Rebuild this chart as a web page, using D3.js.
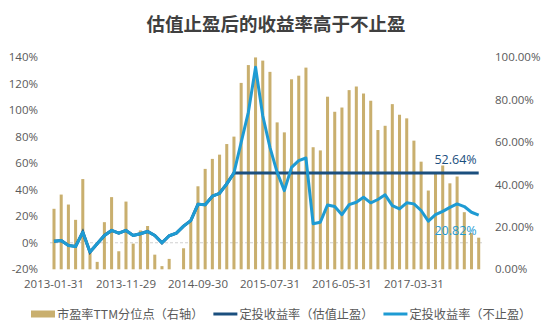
<!DOCTYPE html>
<meta charset="utf-8">
<script src="https://d3js.org/d3.v7.min.js"></script>
<style>
  body { margin: 0; background: #fff; }
  text { font-family: "Open Sans", "Noto Sans CJK SC", sans-serif; }
</style>
<div id="chart"></div>
<script>
// month-end trading days
var dates = [
  "2013-01-31","2013-02-28","2013-03-29","2013-04-26","2013-05-31","2013-06-28","2013-07-31","2013-08-30","2013-09-30","2013-10-31","2013-11-29","2013-12-31",
  "2014-01-30","2014-02-28","2014-03-31","2014-04-30","2014-05-30","2014-06-30","2014-07-31","2014-08-29","2014-09-30","2014-10-31","2014-11-28","2014-12-31",
  "2015-01-30","2015-02-27","2015-03-31","2015-04-30","2015-05-29","2015-06-30","2015-07-31","2015-08-31","2015-09-30","2015-10-30","2015-11-30","2015-12-31",
  "2016-01-29","2016-02-29","2016-03-31","2016-04-29","2016-05-31","2016-06-30","2016-07-29","2016-08-31","2016-09-30","2016-10-31","2016-11-30","2016-12-30",
  "2017-01-26","2017-02-28","2017-03-31","2017-04-28","2017-05-31","2017-06-30","2017-07-31","2017-08-31","2017-09-29","2017-10-31","2017-11-30","2017-12-29"
];
var xTicks = ["2013-01-31","2013-11-29","2014-09-30","2015-07-31","2016-05-31","2017-03-31"];

// 市盈率TTM分位点 (right axis, %)
var pePct = [
  28.5, 35.2, 30.5, 23.3, 42.5, 8, 3.5, 22.2, 34, 8.5,
  31.9, 12.1, 18.3, 20.4, 6.9, 1.5, 4.9, 0, 9.9, 22.7,
  39.1, 47.3, 52, 54, 59, 62.5, 87.8, 96.2, 99.8, 98.3,
  93, 69.2, 64.5, 89.5, 91.2, 95, 57.5, 56, 81.3, 74.2,
  76.2, 84.4, 86.1, 82.8, 79.4, 65.6, 67.6, 77.8, 72.8, 71.1,
  60.6, 50.7, 37.1, 44.9, 48.9, 40.5, 43.7, 26.9, 17.1, 14.9
];
// 定投收益率（不止盈） (left axis, %)
var noStop = [
  1.2, 1.7, -2, -2.8, 8, -7, -0.7, 5.5, 9.3, 7.3,
  9.3, 5.5, 6.8, 8.5, 5.5, 0, 5.3, 7.3, 12.5, 16.7,
  29, 28.7, 35.1, 37.3, 44.4, 52.64, 75.7, 98.3, 132.3, 95.7,
  71.9, 53.1, 39.3, 56.8, 61.9, 63.9, 14.3, 15.5, 28.5, 27.3,
  21.2, 28.7, 30.5, 34.3, 30.1, 32.6, 36.1, 28, 25.5, 30.1,
  29.3, 24.3, 16.3, 21.2, 23.7, 26.7, 29.3, 27.3, 23, 20.82
];
// 定投收益率（估值止盈） (left axis, %)
var withStop = [
  1.2, 1.7, -2, -2.8, 8, -7, -0.7, 5.5, 9.3, 7.3,
  9.3, 5.5, 6.8, 8.5, 5.5, 0, 5.3, 7.3, 12.5, 16.7,
  29, 28.7, 35.1, 37.3, 44.4, 52.64, 52.64, 52.64, 52.64, 52.64,
  52.64, 52.64, 52.64, 52.64, 52.64, 52.64, 52.64, 52.64, 52.64, 52.64,
  52.64, 52.64, 52.64, 52.64, 52.64, 52.64, 52.64, 52.64, 52.64, 52.64,
  52.64, 52.64, 52.64, 52.64, 52.64, 52.64, 52.64, 52.64, 52.64, 52.64
];
var leftTicks = [-20, 0, 20, 40, 60, 80, 100, 120, 140];
var rightTicks = [0, 20, 40, 60, 80, 100];
var legendNames = ["市盈率TTM分位点（右轴）", "定投收益率（估值止盈）", "定投收益率（不止盈）"];

var W = 548, H = 326;
var colBar = "#C9AF6E", colDark = "#1B4F7E", colLight = "#1E9BD3";

var svg = d3.select("#chart").append("svg")
  .attr("width", W).attr("height", H);

// title
svg.append("text")
  .attr("x", 276).attr("y", 31)
  .attr("text-anchor", "middle")
  .style("font-family", "'Noto Sans CJK SC', sans-serif")
  .style("font-size", "18.5px").style("font-weight", "bold")
  .attr("fill", "#404040")
  .text("估值止盈后的收益率高于不止盈");

// scales
var x = d3.scaleBand().domain(dates).range([50.4, 482.3]).paddingInner(0.58).paddingOuter(0.29);
var xc = function(d) { return x(d) + x.bandwidth() / 2; };
var yL = d3.scaleLinear().domain([-20, 140]).range([269.3, 57]);
var yR = d3.scaleLinear().domain([0, 100]).range([269.3, 57]);

// axes
var axL = svg.append("g").attr("transform", "translate(42,0)")
  .call(d3.axisLeft(yL).tickValues(leftTicks).tickSize(0).tickPadding(4).tickFormat(function(d) { return d + "%"; }));
var axR = svg.append("g").attr("transform", "translate(492,0)")
  .call(d3.axisRight(yR).tickValues(rightTicks).tickSize(0).tickPadding(3).tickFormat(function(d) { return d3.format(".2f")(d) + "%"; }));
var axB = svg.append("g").attr("transform", "translate(0,268)")
  .call(d3.axisBottom(x).tickValues(xTicks).tickSize(0).tickPadding(12));
[axL, axR, axB].forEach(function(a) {
  a.select(".domain").remove();
  a.selectAll("text").attr("fill", "#595959").style("font-size", "11.5px")
    .style("font-family", "'Open Sans', sans-serif");
});

// zero line
svg.append("line")
  .attr("x1", 50).attr("x2", 482)
  .attr("y1", yL(0)).attr("y2", yL(0))
  .attr("stroke", "#D0D0D0").attr("stroke-width", 1)
  .attr("stroke-dasharray", "3,2");

// bars
svg.selectAll(".bar")
  .data(pePct)
  .enter()
  .append("rect")
    .attr("class", "bar")
    .attr("x", function(d, i) { return x(dates[i]); })
    .attr("y", function(d) { return yR(d); })
    .attr("width", x.bandwidth())
    .attr("height", function(d) { return yR(0) - yR(d); })
    .attr("fill", colBar);

// lines
var line = d3.line()
  .x(function(d, i) { return xc(dates[i]); })
  .y(function(d) { return yL(d); });

svg.append("path").datum(withStop)
  .attr("d", line).attr("fill", "none")
  .attr("stroke", colDark).attr("stroke-width", 3);
svg.append("path").datum(noStop)
  .attr("d", line).attr("fill", "none")
  .attr("stroke", colLight).attr("stroke-width", 3)
  .attr("stroke-linejoin", "round");

// end labels
var last = dates.length - 1;
svg.append("text")
  .attr("x", xc(dates[last]) - 2).attr("y", yL(withStop[last]) - 9)
  .attr("text-anchor", "end").attr("fill", colDark)
  .style("font-size", "12.5px")
  .text(withStop[last].toFixed(2) + "%");
svg.append("text")
  .attr("x", xc(dates[last]) - 2).attr("y", yL(noStop[last]) + 20)
  .attr("text-anchor", "end").attr("fill", colLight)
  .style("font-size", "12.5px")
  .text(noStop[last].toFixed(2) + "%");

// legend
var lg = svg.append("g").attr("transform", "translate(31,314)");
var cx = 0;
legendNames.forEach(function(name, i) {
  if (i == 0) {
    lg.append("rect").attr("x", cx).attr("y", -3.5).attr("width", 24).attr("height", 7).attr("fill", colBar);
  } else {
    lg.append("line").attr("x1", cx).attr("x2", cx + 24).attr("y1", 0).attr("y2", 0)
      .attr("stroke", i == 1 ? colDark : colLight).attr("stroke-width", 3);
  }
  cx += 26;
  var t = lg.append("text").attr("x", cx).attr("y", 4.5)
    .attr("fill", "#595959")
    .style("font-family", "'Noto Sans CJK SC', sans-serif")
    .style("font-size", "12.2px")
    .text(name);
  cx += t.node().getComputedTextLength() + 10;
});
</script>
